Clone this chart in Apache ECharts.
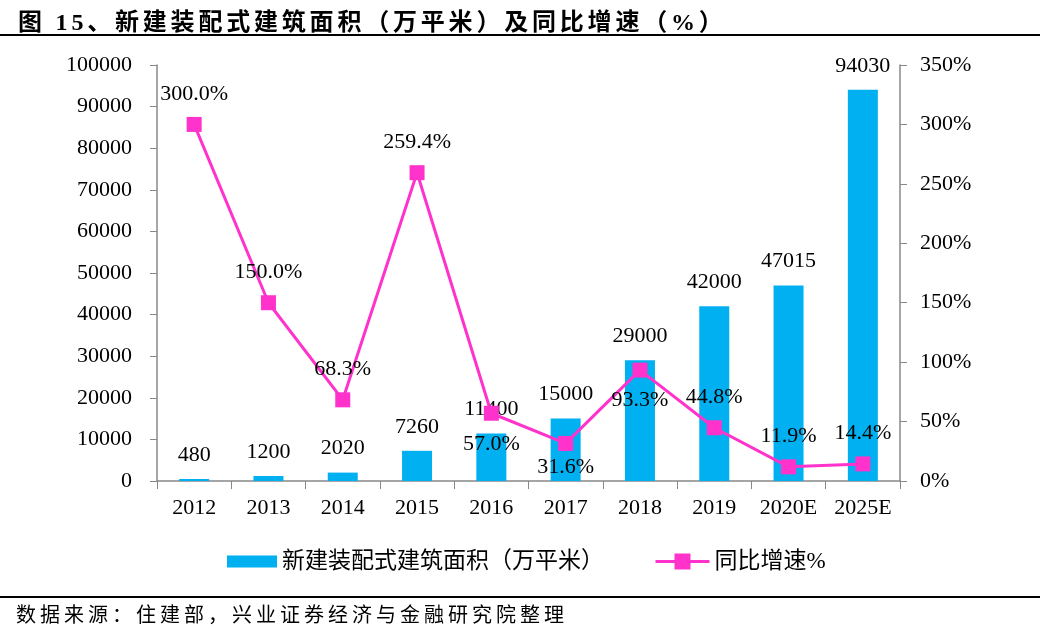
<!DOCTYPE html>
<html>
<head>
<meta charset="utf-8">
<script src="https://cdn.jsdelivr.net/npm/echarts@6/dist/echarts.min.js"></script>
<style>
body{margin:0;background:#fff;}
#wrap{position:relative;width:1040px;height:627px;overflow:hidden;}
#main{position:absolute;left:0;top:0;width:1040px;height:627px;}
.title{position:absolute;left:18px;top:2px;font:bold 24px "Liberation Serif","Noto Sans CJK SC";letter-spacing:3.8px;color:#000;white-space:nowrap;}
.src{position:absolute;left:16px;top:599px;font:20px "Liberation Serif","Noto Sans CJK SC";letter-spacing:4px;color:#000;white-space:nowrap;}
.rule{position:absolute;left:0;width:1040px;height:2px;background:#000;}
</style>
</head>
<body>
<div id="wrap">
  <div id="main"></div>
  <div class="title">图 15、新建装配式建筑面积（万平米）及同比增速（%）</div>
  <div class="rule" style="top:34px"></div>
  <div class="rule" style="top:596px"></div>
  <div class="src">数据来源：住建部，兴业证券经济与金融研究院整理</div>
</div>
<script>
// 数据
var years=['2012','2013','2014','2015','2016','2017','2018','2019','2020E','2025E'];
var area=[480,1200,2020,7260,11400,15000,29000,42000,47015,94030];
var growth=[300.0,150.0,68.3,259.4,57.0,31.6,93.3,44.8,11.9,14.4];
var labelPos=['top','top','top','top','bottom','bottom','bottom','top','top','top'];
var labelDist=[12,12,12,12,12,5,12,12,12,12];

var serif='"Liberation Serif","Times New Roman",serif';
var cjk='"Liberation Serif","Noto Sans CJK SC",sans-serif';

var chart=echarts.init(document.getElementById('main'));

var lineData=[];
for(var i=0;i<growth.length;i++){
    lineData.push({
        value:growth[i],
        label:{position:labelPos[i],distance:labelDist[i]}
    });
}

var option={
    animation:false,
    grid:{left:157,right:140,top:65,bottom:146},
    legend:[{
        left:222,
        top:545,
        itemWidth:50,
        itemHeight:12,
        textStyle:{fontSize:23,fontFamily:cjk,color:'#000'},
        data:[{name:'新建装配式建筑面积（万平米）',icon:'rect',itemStyle:{color:'#00B0F0'}}]
    },{
        left:649,
        top:545,
        itemWidth:54,
        itemHeight:20,
        lineStyle:{width:3},
        textStyle:{fontSize:23,fontFamily:cjk,color:'#000'},
        data:[{name:'同比增速%'}]
    }],
    xAxis:{
        type:'category',
        data:years,
        axisLine:{lineStyle:{color:'#888',width:1.5}},
        axisTick:{show:true,length:8,lineStyle:{color:'#888'}},
        axisLabel:{interval:0,fontSize:22,fontFamily:serif,color:'#000',margin:16}
    },
    yAxis:[{
        type:'value',
        min:0,max:100000,interval:10000,
        axisLine:{show:true,lineStyle:{color:'#888',width:1.5}},
        axisTick:{show:true,length:7,lineStyle:{color:'#888'}},
        splitLine:{show:false},
        axisLabel:{fontSize:22,fontFamily:serif,color:'#000',margin:25,
            formatter:function(v){return String(v);}}
    },{
        type:'value',
        min:0,max:350,interval:50,
        axisLine:{show:true,lineStyle:{color:'#888',width:1.5}},
        axisTick:{show:true,length:7,lineStyle:{color:'#888'}},
        splitLine:{show:false},
        axisLabel:{fontSize:22,fontFamily:serif,color:'#000',margin:20,formatter:'{value}%'}
    }],
    series:[{
        name:'新建装配式建筑面积（万平米）',
        type:'bar',
        data:area,
        barWidth:30,
        itemStyle:{color:'#00B0F0'},
        label:{show:true,position:'top',distance:13,fontSize:22,fontFamily:serif,color:'#000'}
    },{
        name:'同比增速%',
        type:'line',
        yAxisIndex:1,
        data:lineData,
        symbol:'rect',
        symbolSize:15,
        lineStyle:{color:'#FF33CC',width:3},
        itemStyle:{color:'#FF33CC'},
        label:{show:true,fontSize:22,fontFamily:serif,color:'#000',
            formatter:function(p){return p.value.toFixed(1)+'%';}}
    }]
};
chart.setOption(option);
</script>
</body>
</html>
